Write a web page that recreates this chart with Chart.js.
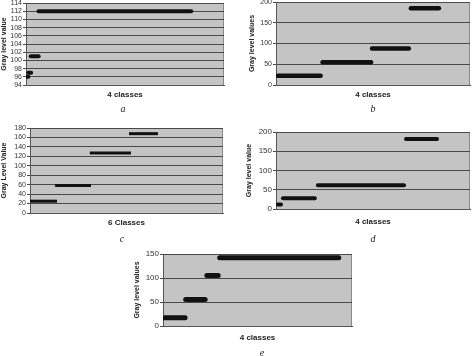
<!DOCTYPE html>
<html><head><meta charset="utf-8">
<script src="https://cdn.jsdelivr.net/npm/chart.js@4/dist/chart.umd.min.js"></script>
<style>
html,body{margin:0;padding:0;background:#fff;}
body{width:474px;height:356px;position:relative;overflow:hidden;}
canvas{position:absolute;}
.cap{position:absolute;font-family:"Liberation Serif",serif;font-style:italic;font-size:10px;color:#222;transform:translate(-50%,-50%);}
</style></head>
<body>
<canvas id="ca"></canvas><canvas id="cb"></canvas><canvas id="cc"></canvas><canvas id="cd"></canvas><canvas id="ce"></canvas>
<div class="cap" style="left:123px;top:108px">a</div>
<div class="cap" style="left:373px;top:108px">b</div>
<div class="cap" style="left:122px;top:238px">c</div>
<div class="cap" style="left:373px;top:238px">d</div>
<div class="cap" style="left:262px;top:352px">e</div>
<script>
// ---- data (x in percent of class axis) ----
const aLevels = [96, 97, 101, 112];
const aStart  = [0, 1.2, 2.4, 6.3];
const aEnd    = [1.2, 2.6, 6.4, 83.5];
const bLevels = [22, 55, 88, 185];
const bStart  = [1, 24, 49.5, 69.5];
const bEnd    = [23, 49, 68.5, 84];
const cLevels = [25, 58, 127, 168];
const cStart  = [0, 13, 31, 51.3];
const cEnd    = [14, 31.6, 52.3, 66.3];
const dLevels = [12, 28, 62, 182];
const dStart  = [1, 3.6, 21.6, 67];
const dEnd    = [2.6, 20, 66, 83];
const eLevels = [17, 55, 105, 142];
const eStart  = [1, 12, 23.2, 30];
const eEnd    = [11.7, 22.3, 29.2, 93];

const aTicks = {min: 94, max: 114, step: 2};
const bTicks = {min: 0, max: 200, step: 50};
const cTicks = {min: 0, max: 180, step: 20};
const dTicks = {min: 0, max: 200, step: 50};
const eTicks = {min: 0, max: 150, step: 50};

Chart.defaults.font.family = '"Liberation Sans", Arial, sans-serif';
Chart.defaults.color = '#222';

const plotBg = {
  id: 'plotBg',
  beforeDraw(chart) {
    const {ctx, chartArea: a} = chart;
    ctx.save();
    ctx.fillStyle = '#c4c4c4';
    ctx.fillRect(a.left, a.top, a.right - a.left, a.bottom - a.top);
    ctx.strokeStyle = '#8a8a8a';
    ctx.lineWidth = 1;
    ctx.strokeRect(a.left + 0.5, a.top + 0.5, a.right - a.left - 1, a.bottom - a.top);
    ctx.restore();
  }
};

function make(id, box, levels, starts, ends, ticks, yTitle, xTitle, lw, cap, tickFont, yTitlePad) {
  const cv = document.getElementById(id);
  cv.width = box.w; cv.height = box.h;
  cv.style.left = box.left + 'px'; cv.style.top = box.top + 'px';
  const datasets = levels.map((v, i) => ({
    data: [{x: starts[i], y: v}, {x: ends[i], y: v}],
    borderColor: '#111', borderWidth: lw, borderCapStyle: cap,
    pointRadius: 0, fill: false, tension: 0
  }));
  new Chart(cv, {
    type: 'line',
    data: {datasets},
    plugins: [plotBg],
    options: {
      responsive: false, animation: false, devicePixelRatio: 1,
      layout: {padding: {top: box.pt, right: box.pr, left: 0, bottom: 0}},
      plugins: {legend: {display: false}, tooltip: {enabled: false}},
      scales: {
        x: {
          type: 'linear', min: 0, max: 100,
          ticks: {display: false},
          grid: {display: false},
          border: {display: true, color: '#555', width: 1},
          title: {display: true, text: xTitle, font: {size: 8, weight: 'bold'}, padding: {top: 0, bottom: 5}, color: '#222'},
          afterFit: s => { s.width = s.width; s.height = box.xH; }
        },
        y: {
          min: ticks.min, max: ticks.max,
          ticks: {stepSize: ticks.step, autoSkip: false, font: {size: tickFont}, padding: 1, color: '#333'},
          grid: {color: '#4a4a4a', lineWidth: 1, tickLength: 3, drawTicks: true},
          border: {display: true, color: '#555', width: 1},
          title: {display: true, text: yTitle, font: {size: 7, weight: 'bold'}, padding: {top: yTitlePad, bottom: 0}, color: '#222'},
          afterFit: s => { s.width = box.yW; }
        }
      }
    }
  });
}

make('ca', {left: 0, top: -5, w: 237, h: 110, pt: 8, pr: 13, yW: 26, xH: 20}, aLevels, aStart, aEnd, aTicks, 'Gray level value', '4 classes', 4, 'round', 7, 0);
make('cb', {left: 244, top: -6, w: 230, h: 111, pt: 8, pr: 4, yW: 32, xH: 20}, bLevels, bStart, bEnd, bTicks, 'Gray level values', '4 classes', 4.5, 'round', 7, 4);
make('cc', {left: 0, top: 118, w: 237, h: 115, pt: 10, pr: 14, yW: 30, xH: 20}, cLevels, cStart, cEnd, cTicks, 'Gray Level Value', '6 Classes', 3, 'butt', 7, 0);
make('cd', {left: 244, top: 122, w: 230, h: 110, pt: 10, pr: 4, yW: 32, xH: 23}, dLevels, dStart, dEnd, dTicks, 'Gray level value', '4 classes', 4, 'round', 8, 1);
make('ce', {left: 128, top: 244, w: 230, h: 104, pt: 10, pr: 6, yW: 35, xH: 22}, eLevels, eStart, eEnd, eTicks, 'Gray level values', '4 classes', 5, 'round', 8, 5);
</script>
</body></html>
